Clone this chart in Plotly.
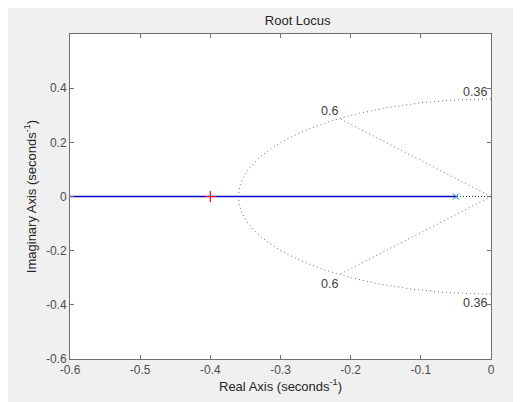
import numpy as np
import plotly.graph_objects as go

pole_re = [-0.05]
pole_im = [0.0]
locus_re = [-0.6, -0.05]
locus_im = [0.0, 0.0]
selected_re = [-0.4]
selected_im = [0.0]
zeta_vals = [0.6]
wn_vals = [0.36]
xticks = [-0.6, -0.5, -0.4, -0.3, -0.2, -0.1, 0]
yticks = [-0.6, -0.4, -0.2, 0, 0.2, 0.4]

fig = go.Figure()
grid = dict(color="#707070", width=1, dash="1px,3px")
lab = dict(size=12.5, color="#404040")
for wn in wn_vals:
    th = np.linspace(np.pi/2, 3*np.pi/2, 200)
    fig.add_trace(go.Scatter(x=wn*np.cos(th), y=wn*np.sin(th), mode="lines", line=grid, hoverinfo="skip"))
    fig.add_annotation(x=0, y=wn, text=str(wn), showarrow=False, xanchor="right", xshift=-2, yshift=7, font=lab)
    fig.add_annotation(x=0, y=-wn, text=str(wn), showarrow=False, xanchor="right", xshift=-2, yshift=-9, font=lab)
for z in zeta_vals:
    r = wn_vals[0]
    a = np.arccos(z)
    xe, ye = -r*np.cos(a), r*np.sin(a)
    fig.add_trace(go.Scatter(x=[0, xe, None, 0, xe], y=[0, ye, None, 0, -ye], mode="lines", line=grid, hoverinfo="skip"))
    fig.add_annotation(x=xe, y=ye, text=str(z), showarrow=False, xshift=-10, yshift=8, font=lab)
    fig.add_annotation(x=xe, y=-ye, text=str(z), showarrow=False, xshift=-10, yshift=-9, font=lab)
fig.add_trace(go.Scatter(x=[-0.6, 0], y=[0, 0], mode="lines", line=dict(color="#303030", width=1, dash="1px,2px"), hoverinfo="skip"))
fig.add_trace(go.Scatter(x=locus_re, y=locus_im, mode="lines", line=dict(color="#0000cc", width=1.5)))
fig.add_trace(go.Scatter(x=pole_re, y=pole_im, mode="markers", marker=dict(symbol="x-thin", size=6, line=dict(color="#0072bd", width=1))))
fig.add_trace(go.Scatter(x=selected_re, y=selected_im, mode="markers", marker=dict(symbol="cross-thin", size=8, line=dict(color="#ff0000", width=1.2))))

ax = dict(showgrid=False, zeroline=False, showline=True, linecolor="#707070", mirror="ticks",
          ticks="inside", ticklen=4, tickcolor="#707070", tickfont=dict(size=12, color="#4d4d4d"))
fig.update_layout(
    width=521, height=402, margin=dict(l=62, r=38, t=26, b=51),
    paper_bgcolor="#f0f0f0", plot_bgcolor="white", showlegend=False,
    font=dict(family="Liberation Sans, Arial", size=12, color="#262626"),
    title=dict(text="Root Locus", x=0.556, xanchor="center", y=0.98, yanchor="top", font=dict(size=13, color="#262626")),
    xaxis=dict(ax, range=[-0.6, 0], tickvals=xticks, ticktext=[str(v) for v in xticks],
               title=dict(text="Real Axis (seconds<sup>-1</sup>)", standoff=4, font=dict(size=13, color="#262626"))),
    yaxis=dict(ax, range=[-0.6, 0.6], tickvals=yticks, ticktext=[str(v) for v in yticks],
               title=dict(text="Imaginary Axis (seconds<sup>-1</sup>)", standoff=6, font=dict(size=13, color="#262626"))),
)
fig.write_html("out.html")
